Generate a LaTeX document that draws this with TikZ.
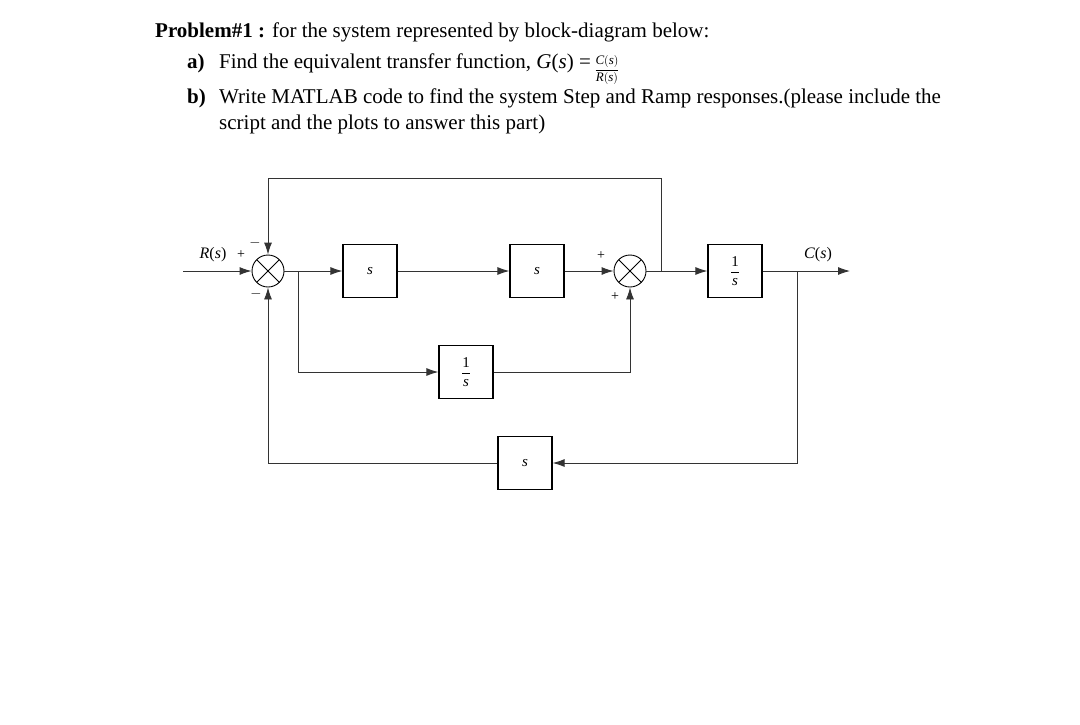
\documentclass[tikz,border=0pt]{standalone}
\usepackage{fontspec}
\setmainfont{Liberation Serif}
\usetikzlibrary{arrows.meta}
\newcommand{\fr}[2]{\ensuremath{\displaystyle\frac{\textup{#1}}{\textit{#2}}}}
\begin{document}
\begin{tikzpicture}[x=1pt,y=-1pt,
  blk/.style={draw,line width=1.2pt,minimum width=54pt,minimum height=53pt,inner sep=0pt,font=\fontsize{15}{15}\selectfont\itshape},
  sum/.style={draw,circle,minimum size=32pt,inner sep=0pt,line width=0.9pt,path picture={\draw[line width=0.9pt] (path picture bounding box.north west)--(path picture bounding box.south east) (path picture bounding box.north east)--(path picture bounding box.south west);}},
  ln/.style={line width=0.9pt,draw=black!80},
  ar/.style={ln,-{Latex[length=12pt,width=8pt]}},
  sg/.style={font=\fontsize{14}{14}\selectfont,inner sep=0pt},
  hd/.style={anchor=base west,inner sep=0pt,font=\fontsize{21}{22}\selectfont}]
\fill[white] (0,0) rectangle (1080,724);
\useasboundingbox (0,0) rectangle (1080,724);
% header
\node[hd] (h1) at (155,37) {\textbf{Problem\#1 :} for the system represented by block-diagram below:};
\node[hd] (h2a) at (187,68) {\textbf{a)}};
\node[hd] (h2) at (219,68) {Find the equivalent transfer function, \textit{G}(\textit{s}) =\,\raisebox{-5pt}{\fontsize{13}{13}\selectfont$\displaystyle\frac{\textit{C}(\textit{s})}{\textit{R}(\textit{s})}$}};
\node[hd] (h3a) at (187,103) {\textbf{b)}};
\node[hd] (h3) at (219,103) {Write MATLAB code to find the system Step and Ramp responses.(please include the};
\node[hd] (h4) at (219,129) {script and the plots to answer this part)};
% diagram
\node[sum] (s1) at (268,271) {};
\node[blk] (b1) at (370,271) {s};
\node[blk] (b2) at (537,271) {s};
\node[sum] (s2) at (630,271) {};
\node[blk] (b3) at (735,271) {\fr{1}{s}};
\node[blk] (b4) at (466,372) {\fr{1}{s}};
\node[blk] (b5) at (525,463) {s};
\coordinate (in) at (183,271);
\coordinate (out) at (850,271);
\coordinate (p1) at (298,271);
\coordinate (p2) at (661,271);
\coordinate (p3) at (797,271);
\draw[ar] (in) -- (s1.west);
\draw[ar] (s1.east) -- (b1.west);
\draw[ar] (b1.east) -- (b2.west);
\draw[ar] (b2.east) -- (s2.west);
\draw[ar] (s2.east) -- (b3.west);
\draw[ar] (b3.east) -- (out);
\draw[ar] (p1) |- (b4.west);
\draw[ar] (b4.east) -| (s2.south);
\draw[ar] (p2) |- (268,178) -- (s1.north);
\draw[ar] (p3) |- (b5.east);
\draw[ar] (b5.west) -| (s1.south);
% labels
\node[font=\fontsize{16}{16}\selectfont,anchor=base] (rl) at (213,258) {\textit{R}(\textit{s})};
\node[font=\fontsize{16}{16}\selectfont,anchor=base] (cl) at (818,258) {\textit{C}(\textit{s})};
\node[sg] at (241,255) {+};
\node[sg] at (255,243) {$-$};
\node[sg] at (256,294) {$-$};
\node[sg] at (601,256) {+};
\node[sg] at (615,297) {+};
\end{tikzpicture}
\end{document}
